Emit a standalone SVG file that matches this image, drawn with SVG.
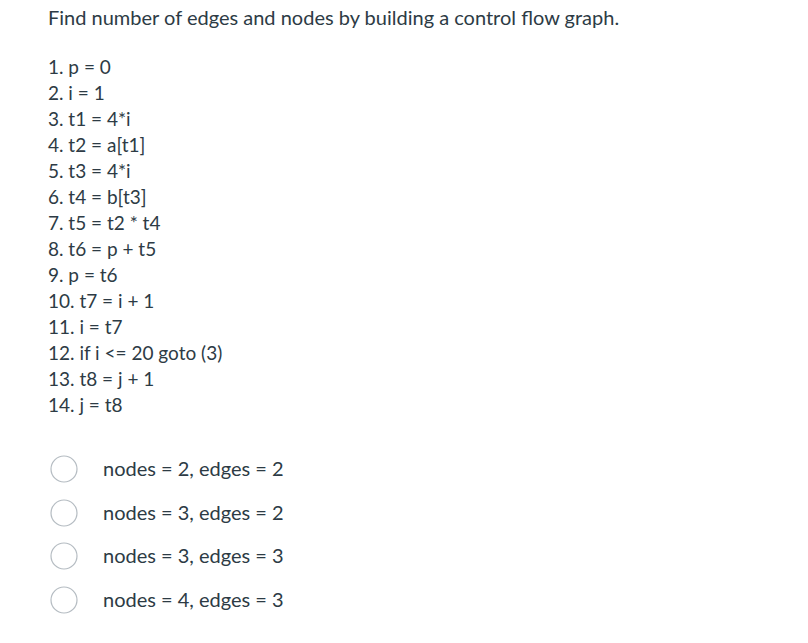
<svg xmlns="http://www.w3.org/2000/svg" width="808" height="643" viewBox="0 0 808 643">
<style>
text{font-family:Lato,"Liberation Sans",sans-serif;fill:#2d3b45}
.t{font-size:20px}
.c{font-size:19px}
.o{font-size:20px}
circle{fill:#fff;stroke:#b5bcc2;stroke-width:1.2}
</style>
<rect width="808" height="643" fill="#fff"/>
<text class="t" x="48" y="25">Find number of edges and nodes by building a control flow graph.</text>
<g class="c">
<text class="c" x="48" y="74">1. p = 0</text>
<text class="c" x="48" y="100">2. i = 1</text>
<text class="c" x="48" y="126">3. t1 = 4*i</text>
<text class="c" x="48" y="152">4. t2 = a[t1]</text>
<text class="c" x="48" y="178">5. t3 = 4*i</text>
<text class="c" x="48" y="204">6. t4 = b[t3]</text>
<text class="c" x="48" y="230">7. t5 = t2 * t4</text>
<text class="c" x="48" y="256">8. t6 = p + t5</text>
<text class="c" x="48" y="282">9. p = t6</text>
<text class="c" x="48" y="308">10. t7 = i + 1</text>
<text class="c" x="48" y="334">11. i = t7</text>
<text class="c" x="48" y="360">12. if i &lt;= 20 goto (3)</text>
<text class="c" x="48" y="386">13. t8 = j + 1</text>
<text class="c" x="48" y="412">14. j = t8</text>
</g>
<g id="opt1"><circle cx="64" cy="469" r="13"/><text class="o" x="103" y="476">nodes = 2, edges = 2</text></g>
<g id="opt2"><circle cx="64" cy="513" r="13"/><text class="o" x="103" y="520">nodes = 3, edges = 2</text></g>
<g id="opt3"><circle cx="64" cy="556" r="13"/><text class="o" x="103" y="563">nodes = 3, edges = 3</text></g>
<g id="opt4"><circle cx="64" cy="600" r="13"/><text class="o" x="103" y="607">nodes = 4, edges = 3</text></g>
</svg>
